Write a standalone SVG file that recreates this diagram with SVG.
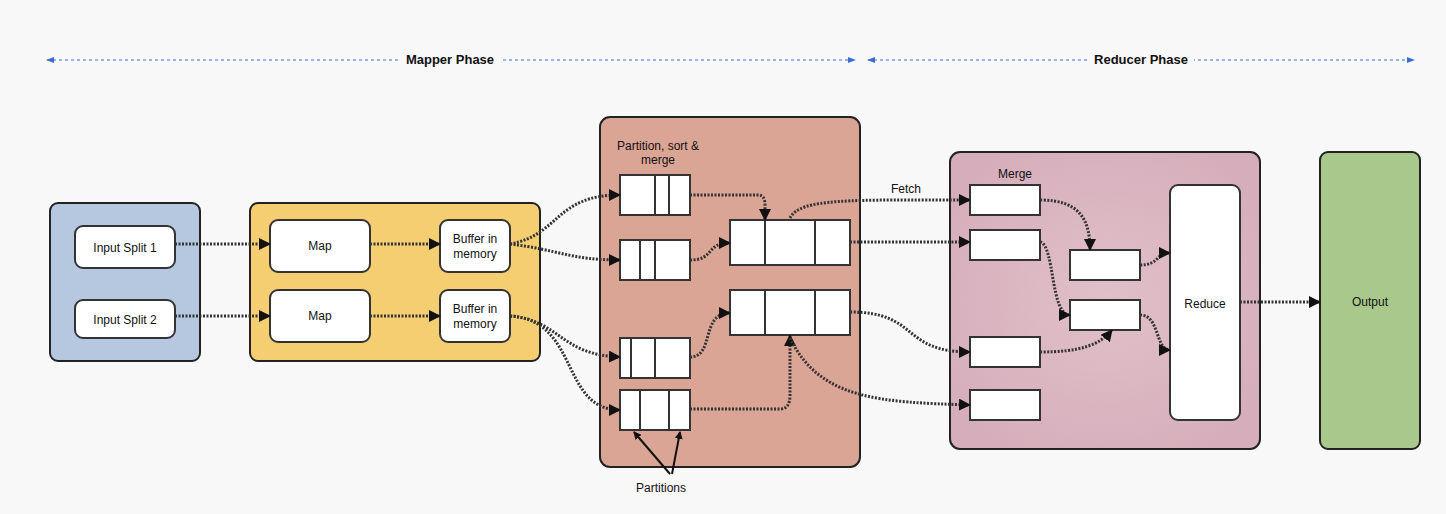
<svg xmlns="http://www.w3.org/2000/svg" width="1446" height="514" viewBox="0 0 1446 514">
<defs>
<marker id="a" markerWidth="8" markerHeight="8" refX="7" refY="4" orient="auto" markerUnits="userSpaceOnUse"><path d="M0,0 L8,4 L0,8 Z" fill="#111"/></marker>
<marker id="big" markerWidth="12" markerHeight="12" refX="11" refY="6" orient="auto" markerUnits="userSpaceOnUse"><path d="M0,0 L12,6 L0,12 Z" fill="#111"/></marker>
<marker id="b" markerWidth="8" markerHeight="8" refX="7" refY="4" orient="auto" markerUnits="userSpaceOnUse"><path d="M0,1 L8,4 L0,7 Z" fill="#3a6fd0"/></marker>
<marker id="bs" markerWidth="8" markerHeight="8" refX="1" refY="4" orient="auto" markerUnits="userSpaceOnUse"><path d="M8,1 L0,4 L8,7 Z" fill="#3a6fd0"/></marker>
<radialGradient id="rg" cx="0.5" cy="0.5" r="0.6"><stop offset="0" stop-color="#e0c0c9"/><stop offset="1" stop-color="#d6aebb"/></radialGradient>
</defs>
<style>
text{font-family:"Liberation Sans",Arial,sans-serif;font-size:12px;fill:#111}
.c{fill:none;stroke:#333;stroke-width:3;stroke-dasharray:2,1.5;marker-end:url(#big)}
.w{fill:#fff;stroke:#333;stroke-width:2}
.d{stroke:#333;stroke-width:2}
.grp{stroke:#222;stroke-width:2}
.ph{fill:none;stroke:#3a6fd0;stroke-width:1;stroke-dasharray:3,3;marker-end:url(#b);marker-start:url(#bs)}
</style>
<rect width="1446" height="514" fill="#f8f8f8"/>
<g id="phases">
<line class="ph" x1="47" y1="60" x2="855" y2="60"/>
<rect x="400" y="52" width="100" height="16" fill="#f8f8f8"/>
<text x="450" y="64" text-anchor="middle" font-weight="bold" style="font-size:13px">Mapper Phase</text>
<line class="ph" x1="868" y1="60" x2="1414" y2="60"/>
<rect x="1088" y="52" width="106" height="16" fill="#f8f8f8"/>
<text x="1141" y="64" text-anchor="middle" font-weight="bold" style="font-size:13px">Reducer Phase</text>
</g>
<g id="input"><rect class="grp" x="50" y="203" width="150" height="158" rx="8" fill="#b5c8e0"/>
<rect class="w" x="75" y="226" width="100" height="42" rx="8"/><text x="125" y="252" text-anchor="middle">Input Split 1</text>
<rect class="w" x="75" y="300" width="100" height="38" rx="8"/><text x="125" y="324" text-anchor="middle">Input Split 2</text></g>
<g id="mapper"><rect class="grp" x="250" y="203" width="290" height="158" rx="8" fill="#f5ce72"/>
<rect class="w" x="270" y="220" width="100" height="52" rx="8"/><text x="320" y="250" text-anchor="middle">Map</text>
<rect class="w" x="270" y="290" width="100" height="52" rx="8"/><text x="320" y="320" text-anchor="middle">Map</text>
<rect class="w" x="440" y="220" width="70" height="52" rx="8"/><text x="475" y="243" text-anchor="middle">Buffer in</text><text x="475" y="258" text-anchor="middle">memory</text>
<rect class="w" x="440" y="290" width="70" height="52" rx="8"/><text x="475" y="313" text-anchor="middle">Buffer in</text><text x="475" y="328" text-anchor="middle">memory</text></g>
<g id="sort"><rect class="grp" x="600" y="117" width="260" height="350" rx="10" fill="#dba596"/>
<text x="658" y="150" text-anchor="middle">Partition, sort &amp;</text><text x="658" y="164" text-anchor="middle">merge</text>
<rect class="w" x="620" y="175" width="70" height="40"/><line class="d" x1="655" y1="175" x2="655" y2="215"/><line class="d" x1="669" y1="175" x2="669" y2="215"/>
<rect class="w" x="620" y="240" width="70" height="40"/><line class="d" x1="640" y1="240" x2="640" y2="280"/><line class="d" x1="655" y1="240" x2="655" y2="280"/>
<rect class="w" x="620" y="338" width="70" height="40"/><line class="d" x1="631" y1="338" x2="631" y2="378"/><line class="d" x1="655" y1="338" x2="655" y2="378"/>
<rect class="w" x="620" y="390" width="70" height="40"/><line class="d" x1="640" y1="390" x2="640" y2="430"/><line class="d" x1="669" y1="390" x2="669" y2="430"/>
<rect class="w" x="730" y="220" width="120" height="45"/><line class="d" x1="765" y1="220" x2="765" y2="265"/><line class="d" x1="815" y1="220" x2="815" y2="265"/>
<rect class="w" x="730" y="290" width="120" height="45"/><line class="d" x1="765" y1="290" x2="765" y2="335"/><line class="d" x1="815" y1="290" x2="815" y2="335"/>
<text x="661" y="492" text-anchor="middle">Partitions</text>
<path d="M670,474 L634,432" stroke="#111" stroke-width="2" fill="none" marker-end="url(#a)"/>
<path d="M672,474 L680,432" stroke="#111" stroke-width="2" fill="none" marker-end="url(#a)"/></g>
<g id="reducer"><rect class="grp" x="950" y="152" width="310" height="297" rx="10" fill="url(#rg)"/>
<text x="1015" y="178" text-anchor="middle">Merge</text>
<rect class="w" x="970" y="185" width="70" height="30"/><rect class="w" x="970" y="230" width="70" height="30"/>
<rect class="w" x="970" y="337" width="70" height="30"/><rect class="w" x="970" y="390" width="70" height="30"/>
<rect class="w" x="1070" y="250" width="70" height="30"/><rect class="w" x="1070" y="300" width="70" height="30"/>
<rect class="w" x="1170" y="185" width="70" height="235" rx="8"/><text x="1205" y="308" text-anchor="middle">Reduce</text></g>
<g id="output"><rect class="grp" x="1320" y="152" width="100" height="297" rx="8" fill="#a9c98c"/><text x="1370" y="306" text-anchor="middle">Output</text></g>
<g id="connectors">
<path class="c" d="M175,244 H270"/>
<path class="c" d="M175,316 H270"/>
<path class="c" d="M370,244 H440"/>
<path class="c" d="M370,316 H440"/>
<path class="c" d="M510,244 C560,235 555,195 620,195"/>
<path class="c" d="M510,244 C560,250 570,260 620,260"/>
<path class="c" d="M510,316 C560,320 560,355 620,357"/>
<path class="c" d="M510,316 C580,320 560,410 620,410"/>
<path class="c" d="M690,195 H758 Q765,195 765,205 V220"/>
<path class="c" d="M690,260 C715,260 705,243 730,243"/>
<path class="c" d="M690,357 C715,357 700,313 730,313"/>
<path class="c" d="M690,409 H780 Q790,409 790,395 V335"/>
<text x="906" y="193" text-anchor="middle">Fetch</text>
<path class="c" d="M790,218 C800,198 850,200 970,200"/>
<path class="c" d="M850,242 H970"/>
<path class="c" d="M850,312 C920,312 900,352 970,352"/>
<path class="c" d="M790,338 C820,400 880,402 970,405"/>
<path class="c" d="M1040,200 C1080,200 1090,220 1090,250"/>
<path class="c" d="M1040,242 C1055,245 1050,315 1070,315"/>
<path class="c" d="M1040,352 C1080,352 1100,345 1112,330"/>
<path class="c" d="M1140,265 C1160,265 1155,253 1170,253"/>
<path class="c" d="M1140,315 C1160,315 1155,350 1170,350"/>
<path class="c" d="M1240,302 H1320"/>
</g>
</svg>
